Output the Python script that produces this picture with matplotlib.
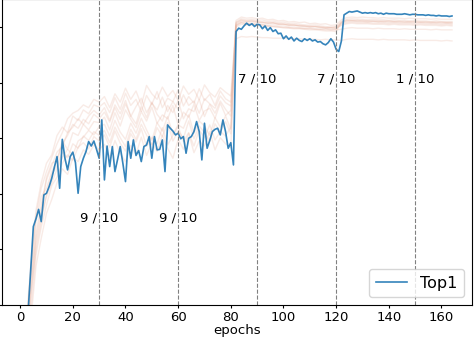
import numpy as np
import matplotlib.pyplot as plt

# top1 accuracy of the tracked run, one value per epoch (0..164)
top1 = [
    -30.0, -20.0, -9.0, -1.5, 6.3, 14.1, 15.5, 17.2, 15.0, 19.8,
    20.1, 21.3, 22.8, 24.8, 26.7, 21.0, 29.8, 26.4, 24.3, 26.7,
    27.5, 25.6, 20.1, 24.9, 26.4, 27.6, 29.4, 28.6, 29.5, 28.0,
    26.4, 33.3, 22.5, 28.6, 24.9, 28.5, 24.0, 26.2, 28.5, 25.5,
    22.2, 29.4, 26.4, 29.7, 26.9, 27.8, 25.8, 28.5, 28.8, 30.3,
    26.4, 30.3, 27.9, 28.0, 29.7, 24.0, 32.4, 31.8, 31.3, 30.6,
    30.9, 29.9, 30.3, 27.3, 30.0, 30.3, 31.2, 33.0, 31.2, 26.1,
    32.7, 28.2, 29.6, 31.2, 31.6, 31.8, 30.6, 33.3, 31.2, 28.2,
    29.2, 25.2, 49.2, 49.8, 49.6, 50.2, 50.7, 50.3, 50.6, 50.1,
    50.5, 50.4, 49.7, 50.2, 49.4, 49.9, 49.2, 49.5, 48.8, 48.9,
    47.9, 48.4, 47.8, 48.2, 47.5, 48.0, 47.6, 47.4, 47.9, 47.6,
    47.9, 47.5, 47.7, 47.3, 47.4, 47.0, 46.8, 47.2, 47.9, 47.3,
    46.0, 45.6, 47.5, 52.2, 52.5, 52.8, 52.7, 52.8, 52.9, 52.7,
    52.5, 52.6, 52.5, 52.6, 52.5, 52.6, 52.4, 52.5, 52.3, 52.5,
    52.4, 52.4, 52.4, 52.3, 52.3, 52.3, 52.4, 52.3, 52.2, 52.3,
    52.3, 52.2, 52.2, 52.2, 52.1, 52.2, 52.1, 52.1, 52.0, 52.1,
    52.0, 52.0, 52.0, 51.9, 52.0,
]
epochs = np.arange(len(top1))

# the other runs, logged every second epoch (0, 2, ..., 164)
run_epochs = np.arange(0, 165, 2)
run1 = [-22, -6, 6, 16,
        21, 24, 26.5, 29, 31, 33.5, 34.5, 35, 36, 35.5, 37, 36.5,
        37.5, 35.5, 38, 36.5, 39, 37, 38.5, 36, 39.5, 38, 37, 39.2, 37.5,
        38.6, 36.8, 39.4, 37.9, 38.8, 36.9, 39.6, 38.2, 37.4, 39.1, 38.3, 37.6,
        51.2, 51.8, 51.6, 51.7, 51.5, 51.6, 51.3, 51.4, 51.1, 51.2,
        50.9, 51.0, 50.8, 50.9, 50.6, 50.7, 50.5, 50.6, 50.3, 50.4,
        51.3, 51.7, 51.8, 51.7, 51.8, 51.7, 51.7, 51.6, 51.7, 51.6, 51.6,
        51.6, 51.5, 51.6, 51.5, 51.5, 51.5, 51.4, 51.5, 51.4, 51.4, 51.4]
run2 = [-26, -9, 3, 13,
        18, 22.5, 25, 27.5, 28.5, 31, 32, 33.5, 32.5, 34, 35, 34.2,
        35.5, 33.2, 36, 34.4, 36.8, 33.9, 35.7, 37.2, 34.6, 36.3, 35.1, 37.4, 34.8,
        36.6, 35.2, 37.8, 35.9, 36.7, 34.5, 37.1, 36.2, 35.4, 37.6, 36.4, 35.8,
        50.9, 51.5, 51.3, 51.4, 51.2, 51.3, 51.0, 51.1, 50.8, 50.9,
        50.6, 50.7, 50.5, 50.4, 50.3, 50.4, 50.2, 50.1, 50.0, 50.1,
        51.0, 51.4, 51.5, 51.4, 51.4, 51.3, 51.4, 51.3, 51.3, 51.2, 51.3,
        51.2, 51.2, 51.1, 51.2, 51.1, 51.1, 51.0, 51.1, 51.0, 51.0, 51.0]
run3 = [-24, -7, 5, 15,
        19.5, 21, 24, 26, 29.5, 28, 31, 30.5, 32.5, 31.5, 33, 32.8,
        33.8, 31.5, 34.6, 32.2, 35.1, 33.4, 31.9, 34.8, 33.1, 35.6, 32.7, 34.2, 33.5,
        35.9, 32.4, 34.7, 33.8, 36.1, 33.2, 34.9, 35.4, 33.6, 36.3, 34.1, 35.0,
        50.6, 51.2, 51.0, 51.1, 50.9, 50.9, 50.7, 50.8, 50.5, 50.6,
        50.3, 50.4, 50.2, 50.1, 50.0, 50.1, 49.9, 49.8, 49.8, 49.7,
        50.8, 51.2, 51.2, 51.1, 51.2, 51.1, 51.1, 51.0, 51.1, 51.0, 51.0,
        51.0, 50.9, 51.0, 50.9, 50.9, 50.9, 50.8, 50.9, 50.8, 50.8, 50.8]
run4 = [-20, -5, 7, 17,
        22, 25.5, 27, 30.5, 32, 31, 34, 33.2, 35.1, 34.4, 36, 35.6,
        36.4, 34.6, 37.3, 35.2, 38.1, 35.9, 37.0, 34.8, 37.7, 36.1, 38.4, 35.5, 37.2,
        36.6, 38.7, 35.8, 37.5, 36.3, 38.9, 36.8, 37.9, 35.9, 38.5, 37.1, 36.5,
        50.4, 51.0, 50.9, 51.0, 50.8, 50.8, 50.6, 50.7, 50.5, 50.5,
        50.3, 50.4, 50.2, 50.2, 50.1, 50.1, 50.0, 49.9, 49.9, 50.0,
        50.7, 51.0, 51.1, 51.0, 51.0, 50.9, 51.0, 50.9, 50.9, 50.8, 50.9,
        50.8, 50.8, 50.8, 50.7, 50.8, 50.7, 50.7, 50.7, 50.6, 50.7, 50.6]
run5 = [-28, -11, 1, 11,
        16, 19.5, 22, 24.5, 26.5, 28, 27, 29.5, 30.2, 31.4, 30.6, 32.1,
        32.5, 30.4, 33.2, 31.1, 29.8, 32.7, 30.9, 33.6, 31.5, 29.6, 32.8, 31.3, 33.9,
        30.7, 32.4, 31.8, 34.2, 30.9, 33.1, 32.2, 30.5, 33.7, 32.0, 34.0, 31.6,
        50.3, 50.8, 50.6, 50.7, 50.5, 50.5, 50.3, 50.4, 50.2, 50.2,
        50.0, 50.0, 49.9, 49.8, 49.8, 49.7, 49.6, 49.7, 49.5, 49.6,
        50.5, 50.8, 50.9, 50.8, 50.8, 50.8, 50.7, 50.7, 50.7, 50.6, 50.7,
        50.6, 50.6, 50.6, 50.5, 50.6, 50.5, 50.5, 50.5, 50.4, 50.5, 50.4]
run6 = [-23, -8, 4, 12,
        17, 23, 25.5, 26, 29, 30.5, 32.5, 31.8, 33.4, 32.6, 34.3, 33.5,
        34.7, 32.9, 35.5, 33.4, 36.2, 34.0, 32.6, 35.8, 33.7, 36.5, 34.3, 33.1, 35.9,
        34.6, 36.8, 33.5, 35.3, 34.8, 37.0, 33.9, 36.1, 34.5, 36.7, 35.2, 34.0,
        50.8, 51.3, 51.1, 51.2, 51.0, 50.9, 50.8, 50.8, 50.6, 50.5,
        50.5, 50.3, 50.3, 50.2, 50.1, 50.1, 50.0, 49.9, 49.9, 49.8,
        50.3, 50.6, 50.7, 50.6, 50.6, 50.6, 50.5, 50.5, 50.5, 50.4, 50.5,
        50.4, 50.4, 50.4, 50.3, 50.4, 50.3, 50.3, 50.3, 50.2, 50.3, 50.2]
run7 = [-30, -13, -1, 9,
        14, 18, 21.5, 23, 25.5, 27, 26, 28.4, 29.2, 28.1, 30.3, 29.5,
        30.6, 28.4, 31.3, 29.1, 27.7, 30.8, 29.3, 31.7, 28.5, 30.2, 29.0, 31.9, 28.8,
        30.5, 32.1, 29.4, 31.0, 28.6, 31.5, 30.1, 32.4, 29.7, 31.2, 30.4, 32.0,
        50.0, 50.5, 50.4, 50.4, 50.3, 50.2, 50.1, 50.1, 50.0, 49.9,
        49.9, 49.8, 49.8, 49.7, 49.7, 49.6, 49.6, 49.5, 49.5, 49.5,
        49.6, 49.8, 49.9, 49.8, 49.8, 49.8, 49.7, 49.8, 49.7, 49.7, 49.7,
        49.6, 49.7, 49.6, 49.6, 49.6, 49.6, 49.5, 49.6, 49.5, 49.5, 49.5]
run8 = [-27, -10, 2, 10,
        15, 20, 23.5, 25, 27.5, 26.5, 29, 28.2, 30.4, 29.6, 31.2, 30.5,
        31.4, 29.2, 32.0, 30.1, 28.5, 31.6, 29.8, 32.5, 30.6, 28.9, 31.9, 30.3, 32.8,
        29.5, 31.3, 30.0, 33.1, 29.9, 32.2, 31.0, 29.4, 32.6, 31.1, 33.0, 30.8,
        47.9, 48.3, 48.2, 48.3, 48.2, 48.1, 48.1, 48.0, 48.0, 48.0,
        47.9, 47.9, 47.9, 47.8, 47.8, 47.8, 47.7, 47.8, 47.7, 47.7,
        47.6, 47.8, 47.9, 47.8, 47.8, 47.8, 47.8, 47.7, 47.8, 47.7, 47.7,
        47.7, 47.7, 47.6, 47.7, 47.6, 47.6, 47.6, 47.6, 47.5, 47.6, 47.5]
run9 = [-32, -15, -3, 7,
        12, 16.5, 19, 22, 24.5, 23.5, 26.5, 25.8, 27.9, 27.1, 28.8, 28.0,
        28.9, 26.5, 29.6, 27.3, 25.8, 28.7, 27.1, 30.2, 26.9, 29.1, 27.6, 30.5, 28.2,
        26.4, 29.8, 28.0, 30.9, 27.4, 29.5, 28.6, 31.2, 27.9, 30.1, 29.0, 28.3,
        50.2, 50.8, 50.6, 50.6, 50.4, 50.4, 50.2, 50.1, 50.0, 49.9,
        49.8, 49.7, 49.7, 49.6, 49.5, 49.5, 49.4, 49.3, 49.3, 49.2,
        50.9, 51.2, 51.2, 51.2, 51.1, 51.1, 51.1, 51.1, 51.0, 51.1, 51.0,
        51.0, 51.0, 50.9, 51.0, 50.9, 50.9, 50.9, 50.8, 50.9, 50.8, 50.8]
other_runs = [run1, run2, run3, run4, run5, run6, run7, run8, run9]

# learning-rate drops and how many runs improved afterwards
lr_steps = [30, 60, 90, 120, 150]
step_labels = ["9 / 10", "9 / 10", "7 / 10", "7 / 10", "1 / 10"]
label_heights = [15.6, 15.6, 40.6, 40.6, 40.6]

fig = plt.figure(figsize=(4.74, 3.39), dpi=100)
ax = fig.add_axes([2 / 474, 34 / 339, 470 / 474, 306 / 339])

for run in other_runs:
    ax.plot(run_epochs, run, color="#e3a58f", alpha=0.22, lw=1.0)

ax.plot(epochs, top1, color="#1f77b4", lw=1.2, alpha=0.9, label="Top1")

for step, text, h in zip(lr_steps, step_labels, label_heights):
    ax.axvline(step, color="gray", ls="--", lw=0.8)
    ax.text(step, h, text, ha="center", va="center", fontsize=9.5)

ax.set_xlim(-6.9, 171.6)
ax.set_ylim(0, 55.05)
ax.set_xticks(np.arange(0, 161, 20))
ax.set_yticks(np.arange(0, 51, 10))
ax.tick_params(axis="x", labelsize=9.5, length=2, pad=2)
ax.tick_params(axis="y", length=2, labelleft=False)
ax.set_xlabel("epochs", fontsize=9.5, labelpad=0)
ax.legend(loc="lower right", fontsize=11.5)

fig.savefig("out.png", dpi=100)
